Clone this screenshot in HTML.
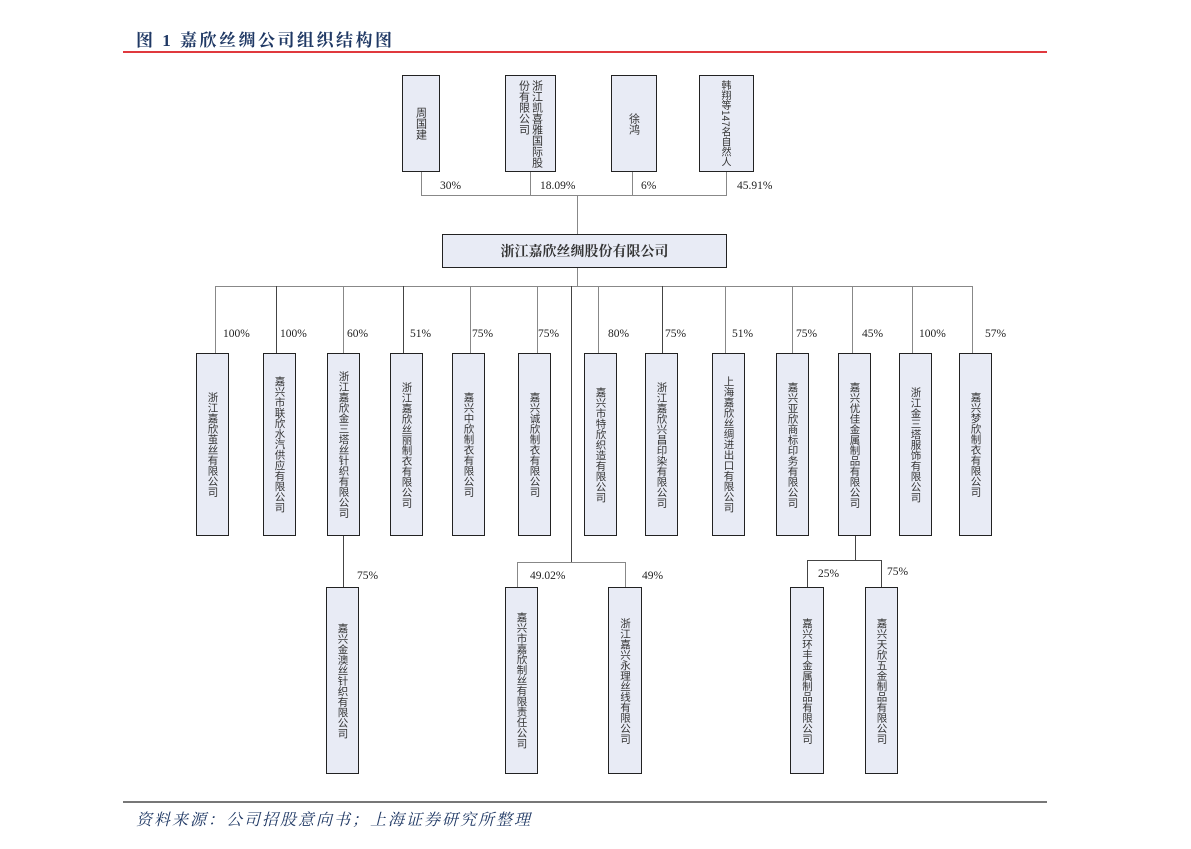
<!DOCTYPE html>
<html><head><meta charset="utf-8">
<style>
body{margin:0;width:1191px;height:849px;background:#fff;position:relative;overflow:hidden;font-family:"Liberation Serif","Noto Serif CJK SC","Noto Sans CJK SC",serif;}
.b{position:absolute;box-sizing:border-box;background:#e8ebf5;border:1.5px solid #222;display:flex;align-items:center;justify-content:center;}
.v{writing-mode:vertical-rl;text-orientation:upright;font-size:10.5px;line-height:12px;color:#333;font-family:"Noto Sans CJK SC",sans-serif;white-space:nowrap;}
.t{font-size:11px;line-height:13px;}
.l{position:absolute;background:#888;}
.p{position:absolute;font-size:11.5px;color:#222;font-family:"Liberation Serif",serif;}
</style></head><body>
<div style="position:absolute;left:136px;top:26px;font-size:17px;letter-spacing:2.5px;font-weight:bold;color:#1f3864;font-family:'Liberation Serif','Noto Serif CJK SC',serif;">图 1 嘉欣丝绸公司组织结构图</div>
<div class="l" style="left:123px;top:51px;width:924px;height:1.5px;background:#e0393e"></div>
<div class="l" style="left:123px;top:801px;width:924px;height:1.5px;background:#777"></div>
<div style="position:absolute;left:136px;top:807px;font-size:16px;letter-spacing:2px;font-style:italic;color:#1f3864;font-family:'Liberation Serif','Noto Serif CJK SC',serif;">资料来源：公司招股意向书；上海证券研究所整理</div>

<!-- top shareholders -->
<div class="b" style="left:402px;top:75px;width:38px;height:97px"><div class="v t">周国建</div></div>
<div class="b" style="left:505px;top:75px;width:51px;height:97px"><div class="v t">浙江凯喜雅国际股<br>份有限公司</div></div>
<div class="b" style="left:611px;top:75px;width:46px;height:97px"><div class="v t">徐鸿</div></div>
<div class="b" style="left:699px;top:75px;width:55px;height:97px"><div class="v t" style="font-size:10px;">韩翔等<span style="text-orientation:mixed;writing-mode:vertical-rl;">147</span>名自然人</div></div>
<div class="l" style="left:421px;top:172px;width:1px;height:23px"></div>
<div class="l" style="left:530px;top:172px;width:1px;height:23px"></div>
<div class="l" style="left:632px;top:172px;width:1px;height:23px"></div>
<div class="l" style="left:726px;top:172px;width:1px;height:23px"></div>
<div class="l" style="left:421px;top:195px;width:306px;height:1px"></div>
<div class="p" style="left:440px;top:180px">30%</div>
<div class="p" style="left:540px;top:180px">18.09%</div>
<div class="p" style="left:641px;top:180px">6%</div>
<div class="p" style="left:737px;top:180px">45.91%</div>
<div class="l" style="left:577px;top:195px;width:1px;height:40px"></div>
<div class="b" style="left:442px;top:234px;width:285px;height:34px;border-width:1px;"><div style="font-size:14px;font-weight:bold;color:#333;font-family:'Noto Serif CJK SC',serif;">浙江嘉欣丝绸股份有限公司</div></div>
<div class="l" style="left:577px;top:268px;width:1px;height:18px"></div>
<div class="l" style="left:215px;top:286px;width:758px;height:1px"></div>

<!-- subsidiaries -->
<div class="l" style="left:215px;top:286px;width:1px;height:67px"></div>
<div class="l" style="left:276px;top:286px;width:1px;height:67px;background:#444"></div>
<div class="l" style="left:343px;top:286px;width:1px;height:67px"></div>
<div class="l" style="left:403px;top:286px;width:1px;height:67px;background:#444"></div>
<div class="l" style="left:470px;top:286px;width:1px;height:67px"></div>
<div class="l" style="left:537px;top:286px;width:1px;height:67px"></div>
<div class="l" style="left:598px;top:286px;width:1px;height:67px"></div>
<div class="l" style="left:662px;top:286px;width:1px;height:67px;background:#444"></div>
<div class="l" style="left:725px;top:286px;width:1px;height:67px"></div>
<div class="l" style="left:792px;top:286px;width:1px;height:67px"></div>
<div class="l" style="left:852px;top:286px;width:1px;height:67px"></div>
<div class="l" style="left:912px;top:286px;width:1px;height:67px"></div>
<div class="l" style="left:972px;top:286px;width:1px;height:67px"></div>
<div class="p" style="left:223px;top:328px">100%</div>
<div class="p" style="left:280px;top:328px">100%</div>
<div class="p" style="left:347px;top:328px">60%</div>
<div class="p" style="left:410px;top:328px">51%</div>
<div class="p" style="left:472px;top:328px">75%</div>
<div class="p" style="left:538px;top:328px">75%</div>
<div class="p" style="left:608px;top:328px">80%</div>
<div class="p" style="left:665px;top:328px">75%</div>
<div class="p" style="left:732px;top:328px">51%</div>
<div class="p" style="left:796px;top:328px">75%</div>
<div class="p" style="left:862px;top:328px">45%</div>
<div class="p" style="left:919px;top:328px">100%</div>
<div class="p" style="left:985px;top:328px">57%</div>

<div class="b" style="left:196px;top:353px;width:33px;height:183px"><div class="v">浙江嘉欣茧丝有限公司</div></div>
<div class="b" style="left:263px;top:353px;width:33px;height:183px"><div class="v">嘉兴市联欣水汽供应有限公司</div></div>
<div class="b" style="left:327px;top:353px;width:33px;height:183px"><div class="v">浙江嘉欣金三塔丝针织有限公司</div></div>
<div class="b" style="left:390px;top:353px;width:33px;height:183px"><div class="v">浙江嘉欣丝丽制衣有限公司</div></div>
<div class="b" style="left:452px;top:353px;width:33px;height:183px"><div class="v">嘉兴中欣制衣有限公司</div></div>
<div class="b" style="left:518px;top:353px;width:33px;height:183px"><div class="v">嘉兴诚欣制衣有限公司</div></div>
<div class="b" style="left:584px;top:353px;width:33px;height:183px"><div class="v">嘉兴市特欣织造有限公司</div></div>
<div class="b" style="left:645px;top:353px;width:33px;height:183px"><div class="v">浙江嘉欣兴昌印染有限公司</div></div>
<div class="b" style="left:712px;top:353px;width:33px;height:183px"><div class="v">上海嘉欣丝绸进出口有限公司</div></div>
<div class="b" style="left:776px;top:353px;width:33px;height:183px"><div class="v">嘉兴亚欣商标印务有限公司</div></div>
<div class="b" style="left:838px;top:353px;width:33px;height:183px"><div class="v">嘉兴优佳金属制品有限公司</div></div>
<div class="b" style="left:899px;top:353px;width:33px;height:183px"><div class="v">浙江金三塔服饰有限公司</div></div>
<div class="b" style="left:959px;top:353px;width:33px;height:183px"><div class="v">嘉兴梦欣制衣有限公司</div></div>

<!-- third level -->
<div class="l" style="left:343px;top:536px;width:1px;height:51px;background:#444"></div>
<div class="p" style="left:357px;top:570px">75%</div>
<div class="b" style="left:326px;top:587px;width:33px;height:187px"><div class="v">嘉兴金澳丝针织有限公司</div></div>

<div class="l" style="left:571px;top:286px;width:1px;height:276px;background:#444"></div>
<div class="l" style="left:517px;top:562px;width:109px;height:1px"></div>
<div class="l" style="left:517px;top:562px;width:1px;height:25px"></div>
<div class="l" style="left:625px;top:562px;width:1px;height:25px"></div>
<div class="p" style="left:530px;top:570px">49.02%</div>
<div class="p" style="left:642px;top:570px">49%</div>
<div class="b" style="left:505px;top:587px;width:33px;height:187px"><div class="v">嘉兴市嘉欣制丝有限责任公司</div></div>
<div class="b" style="left:608px;top:587px;width:34px;height:187px"><div class="v">浙江嘉兴永理丝线有限公司</div></div>

<div class="l" style="left:855px;top:536px;width:1px;height:24px;background:#444"></div>
<div class="l" style="left:807px;top:560px;width:75px;height:1px;background:#444"></div>
<div class="l" style="left:807px;top:560px;width:1px;height:27px;background:#444"></div>
<div class="l" style="left:881px;top:560px;width:1px;height:27px;background:#444"></div>
<div class="p" style="left:818px;top:568px">25%</div>
<div class="p" style="left:887px;top:566px">75%</div>
<div class="b" style="left:790px;top:587px;width:34px;height:187px"><div class="v">嘉兴环丰金属制品有限公司</div></div>
<div class="b" style="left:865px;top:587px;width:33px;height:187px"><div class="v">嘉兴天欣五金制品有限公司</div></div>
</body></html>
